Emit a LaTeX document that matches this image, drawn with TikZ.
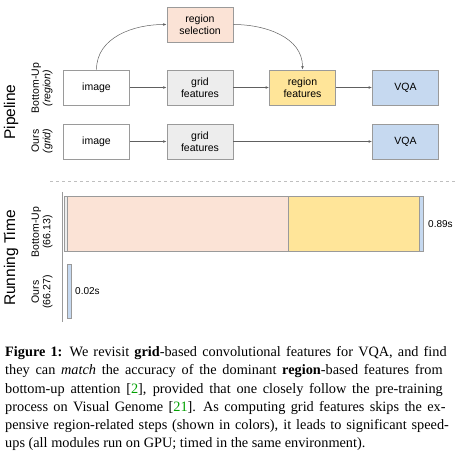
\documentclass[tikz,border=0pt]{standalone}
\usepackage{fontspec}
\setmainfont{Liberation Serif}
\newfontfamily\arialfont{Liberation Sans}
\usepackage{xcolor}
\usetikzlibrary{arrows.meta, positioning}

\definecolor{selpeach}{HTML}{FBE3D6}
\definecolor{featyellow}{HTML}{FFE599}
\definecolor{vqablue}{HTML}{C6D9F0}
\definecolor{gridgray}{HTML}{EDEDED}
\definecolor{boxline}{HTML}{9A9A9A}
\definecolor{citegreen}{HTML}{00A000}

\begin{document}
\begin{tikzpicture}[x=1pt, y=1pt,
    stage/.style={rectangle, draw=boxline, line width=0.8pt, minimum width=66pt, minimum height=35pt, align=center, inner sep=1pt, font=\arialfont\fontsize{10.5}{12}\selectfont},
    arrow/.style={-{Latex[length=3.5pt,width=2.6pt]}, draw=gray!75!black, line width=0.5pt},
    rowlabel/.style={rotate=90, align=center, font=\arialfont\fontsize{10.5}{11.5}\selectfont},
    panel/.style={rotate=90, font=\arialfont\fontsize{15.5}{17}\selectfont},
    bar/.style={draw=boxline, line width=0.6pt},
    timelabel/.style={anchor=west, inner sep=0pt, font=\arialfont\fontsize{10}{11}\selectfont}
]
    \useasboundingbox (0,0) rectangle (474,454);

    % pipeline
    \node[panel] (pipe) at (11, 342) {Pipeline};
    \node[rowlabel] (bu) at (42, 366) {Bottom-Up \\ \textit{(region)}};
    \node[rowlabel] (ours) at (42, 313) {Ours \\ \textit{(grid)}};

    \node[stage, fill=selpeach] (sel) at (200, 429.5) {region \\ selection};
    \node[stage, fill=white] (img1) at (96.5, 366.5) {image};
    \node[stage, fill=gridgray] (grid1) at (200, 366.5) {grid \\ features};
    \node[stage, fill=featyellow] (regf) at (302.5, 366.5) {region \\ features};
    \node[stage, fill=vqablue] (vqa1) at (405.5, 366.5) {VQA};
    \node[stage, fill=white] (img2) at (96.5, 312.5) {image};
    \node[stage, fill=gridgray] (grid2) at (200, 312.5) {grid \\ features};
    \node[stage, fill=vqablue] (vqa2) at (405.5, 312.5) {VQA};

    \draw[arrow] (img1.north) to[out=90, in=180] (sel.west);
    \draw[arrow] (sel.east) to[out=0, in=90] (regf.north);
    \draw[arrow] (img1) -- (grid1);
    \draw[arrow] (grid1) -- (regf);
    \draw[arrow] (regf) -- (vqa1);
    \draw[arrow] (img2) -- (grid2);
    \draw[arrow] (grid2) -- (vqa2);

    % running time
    \draw[gray!50, dashed, line width=0.6pt] (50, 273) -- (457, 273);
    \node[panel] (rt) at (11, 196) {Running Time};
    \node[rowlabel] (bu2) at (42, 222) {Bottom-Up \\ (66.13)};
    \node[rowlabel] (ours2) at (42, 162) {Ours \\ (66.27)};
    \draw[boxline, line width=0.8pt] (62.5, 262) -- (62.5, 132);

    \draw[bar, fill=gridgray] (64.3, 203) rectangle (67.5, 258);
    \draw[bar, fill=selpeach] (67.5, 203) rectangle (288, 258);
    \draw[bar, fill=featyellow] (288, 203) rectangle (419, 258);
    \draw[bar, fill=vqablue] (419, 203) rectangle (423, 258);
    \draw[bar, fill=vqablue] (67.7, 136) rectangle (71, 190);
    \node[timelabel] (t1) at (428, 230) {0.89s};
    \node[timelabel] (t2) at (75, 163) {0.02s};

    % caption
    \node[anchor=north west, inner sep=0pt, text width=452pt, font=\fontsize{14.3}{18.2}\selectfont] (cap) at (5, 107.5)
    {\spaceskip=0.25em plus 0.3em minus 0.12em
    \textbf{Figure 1:} We revisit \textbf{grid}-based convolutional features for VQA, and find\linebreak
    they can \emph{match} the accuracy of the dominant \textbf{region}-based features from\linebreak
    bottom-up attention [\textcolor{citegreen}{2}], provided that one closely follow the pre-training\linebreak
    process on Visual Genome [\textcolor{citegreen}{21}]. As computing grid features skips the ex-\linebreak
    pensive region-related steps (shown in colors), it leads to significant speed-\linebreak
    ups (all modules run on GPU; timed in the same environment).};
\end{tikzpicture}
\end{document}
